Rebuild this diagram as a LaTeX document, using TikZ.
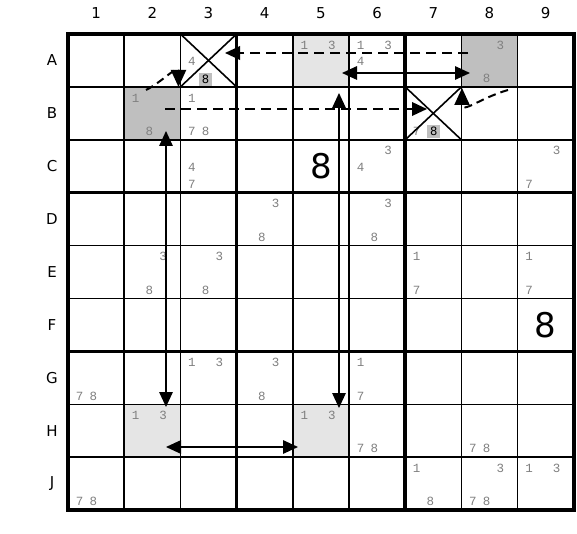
\documentclass[tikz,border=0pt]{standalone}
\usepackage{fontspec}
\newfontfamily\labfont{DejaVu Sans}
\newfontfamily\penfont{Liberation Mono}
\usetikzlibrary{arrows.meta}
\newcommand\pmk[3]{\node[pencil] (pm#1#2#3) at ({68+56.2*(#1-1)+11.5+13.75*mod(#3-1,3)},{34+52.9*(#2-1)+11+16.75*int((#3-1)/3)}) {#3};}
\newcommand\shadecell[3]{\fill[#3] ({68+56.2*(#1-1)},{34+52.9*(#2-1)}) rectangle ++(56.2,52.9);}
\begin{document}
\begin{tikzpicture}[x=1pt,y=-1pt,
  pencil/.style={font=\penfont\fontsize{12.5}{12.5}\selectfont, text=gray, inner sep=0pt},
  hilite/.style={font=\labfont\fontsize{11.5}{11.5}\selectfont, text=black, fill=gray!50, inner sep=0pt, minimum width=13.5pt, minimum height=13pt},
  bigdigit/.style={font=\labfont\fontsize{34}{34}\selectfont, inner sep=0pt},
  lab/.style={font=\labfont\fontsize{15}{15}\selectfont, inner sep=0pt},
  thinline/.style={line width=1.6pt},
  thickline/.style={line width=3.5pt},
  outerline/.style={line width=4pt},
  solidarrow/.style={line width=1.5pt, {Triangle[length=15pt,width=13.5pt]}-{Triangle[length=15pt,width=13.5pt]}},
  dasharrow/.style={line width=2pt, dash pattern=on 10pt off 6pt, -{Triangle[length=15pt,width=13.5pt]}},
  curvearrow/.style={line width=2pt, dash pattern=on 8pt off 5pt, -{Triangle[length=17pt,width=15pt]}}
]
\useasboundingbox (0,0) rectangle (577,534);
\fill[white] (0,0) rectangle (577,534);
% shaded cells
\shadecell{5}{1}{gray!20}
\shadecell{2}{8}{gray!20}
\shadecell{5}{8}{gray!20}
\shadecell{2}{2}{gray!50}
\shadecell{8}{1}{gray!50}
% grid
\foreach \i in {1,2,4,5,7,8} {
  \draw[thinline] ({68+56.2*\i},34) -- ({68+56.2*\i},510.1);
  \draw[thinline] (68,{34+52.9*\i}) -- (573.8,{34+52.9*\i});
}
\foreach \i in {3,6} {
  \draw[thickline] ({68+56.2*\i},34) -- ({68+56.2*\i},510.1);
  \draw[thickline] (68,{34+52.9*\i}) -- (573.8,{34+52.9*\i});
}
\draw[outerline] (68,34) rectangle (573.8,510.1);
% pencil marks
\foreach \cc/\rr/\dd in {3/1/4, 5/1/1, 5/1/3, 6/1/1, 6/1/3, 6/1/4, 8/1/3, 8/1/8,
  2/2/1, 2/2/8, 3/2/1, 3/2/7, 3/2/8, 7/2/7,
  3/3/4, 3/3/7, 6/3/3, 6/3/4, 9/3/3, 9/3/7,
  4/4/3, 4/4/8, 6/4/3, 6/4/8,
  2/5/3, 2/5/8, 3/5/3, 3/5/8, 7/5/1, 7/5/7, 9/5/1, 9/5/7,
  1/7/7, 1/7/8, 3/7/1, 3/7/3, 4/7/3, 4/7/8, 6/7/1, 6/7/7,
  2/8/1, 2/8/3, 5/8/1, 5/8/3, 6/8/7, 6/8/8, 8/8/7, 8/8/8,
  1/9/7, 1/9/8, 7/9/1, 7/9/8, 8/9/3, 8/9/7, 8/9/8, 9/9/1, 9/9/3} {
  \pmk{\cc}{\rr}{\dd}
}
\node[hilite] (hlA3) at (205.6,79.5) {8};
\node[hilite] (hlB7) at (433.7,131.5) {8};
% crosses
\draw[thinline] (180.4,34) -- (236.6,86.9);
\draw[thinline] (236.6,34) -- (180.4,86.9);
\draw[thinline] (405.2,86.9) -- (461.4,139.8);
\draw[thinline] (461.4,86.9) -- (405.2,139.8);
% labels
\foreach \i in {1,...,9} {
  \node[lab] (col\i) at ({68+56.2*(\i-0.5)},13) {\i};
}
\foreach \l [count=\i] in {A,B,C,D,E,F,G,H,J} {
  \node[lab] (row\l) at (52,{34+52.9*(\i-0.5)}) {\l};
}
% big digits
\node[bigdigit] (bigC5) at (320.9,166.3) {8};
\node[bigdigit] (bigF9) at (545.7,325) {8};
% arrow end points
\coordinate (dA1) at (468,53);
\coordinate (dA2) at (225,53);
\coordinate (dB1) at (165,109);
\coordinate (dB2) at (427,109);
\coordinate (sA1) at (342,73);
\coordinate (sA2) at (470,73);
\coordinate (sH1) at (166,447);
\coordinate (sH2) at (298,447);
\coordinate (v2a) at (166,131);
\coordinate (v2b) at (166,407);
\coordinate (v5a) at (339,93);
\coordinate (v5b) at (339,408);
\coordinate (cL1) at (146,90);
\coordinate (cL2) at (178.5,87);
\coordinate (cR1) at (508,90);
\coordinate (cR2) at (462,88);
% arrows
\draw[dasharrow] (dA1) -- (dA2);
\draw[dasharrow] (dB1) -- (dB2);
\draw[solidarrow] (sA1) -- (sA2);
\draw[solidarrow] (sH1) -- (sH2);
\draw[solidarrow] (v2a) -- (v2b);
\draw[solidarrow] (v5a) -- (v5b);
\draw[curvearrow] (cL1) .. controls (162,82) and (178.5,64) .. (cL2);
\draw[curvearrow] (cR1) .. controls (480,98) and (462,114) .. (cR2);
\end{tikzpicture}
\end{document}
